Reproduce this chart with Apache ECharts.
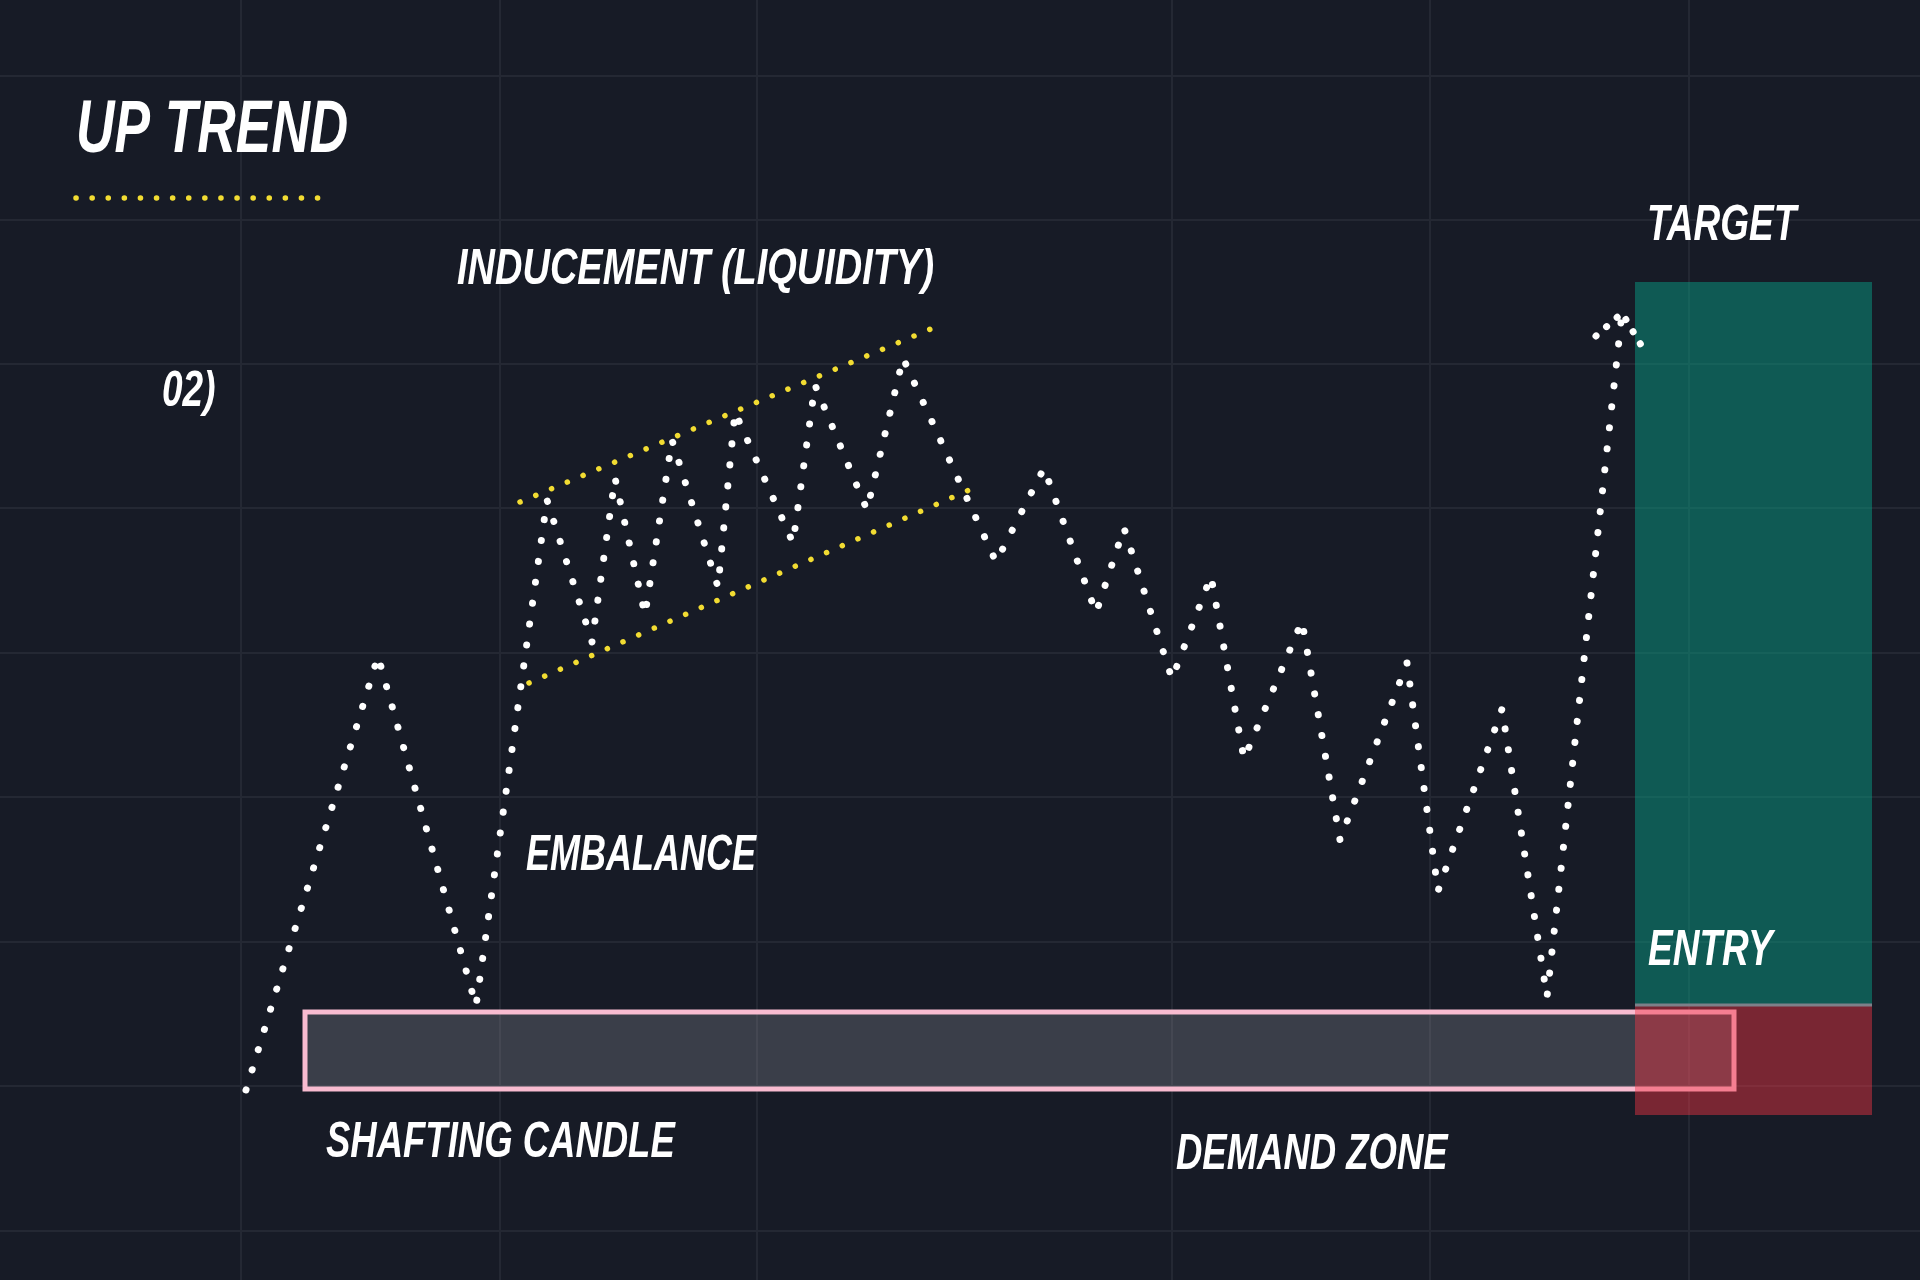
<!DOCTYPE html>
<html>
<head>
<meta charset="utf-8">
<title>UP TREND</title>
<script src="https://cdn.jsdelivr.net/npm/echarts@6/dist/echarts.min.js"></script>
<style>
  html, body { margin: 0; padding: 0; background: #171b26; }
  #chart { width: 1920px; height: 1280px; }
</style>
</head>
<body>
<div id="chart"></div>
<script>
// price path (pixel-like units, y grows downward)
var pathX = [246, 378, 476, 547, 592, 615, 645, 672, 718, 735, 793, 815, 867, 903, 996, 1044, 1096, 1124, 1172, 1211, 1244, 1302, 1340, 1407, 1438, 1502, 1547, 1622];
var pathY = [1090, 656, 1006, 500, 642, 478, 615, 440, 587, 412, 543, 385, 510, 358, 562, 468, 613, 528, 679, 576, 759, 621, 840, 663, 891, 709, 997, 313];
var arrowX = [1596, 1622, 1644];
var arrowY = [336, 313, 350];

// yellow trend lines
var upperX = [520, 933];
var upperY = [502, 328];
var lowerX = [529, 976];
var lowerY = [683, 487];
var legendX = [76, 321];
var legendY = [198, 198];

// zones: [x0, y0, x1, y1]
var demandZone = [305, 1012, 1734, 1089];
var targetZone = [1635, 282, 1872, 1005];
var stopZone = [1635, 1005, 1872, 1115];

// background grid
var gridXs = [241, 500, 757, 1172, 1430, 1689];
var gridYs = [76, 220, 364, 508, 653, 797, 942, 1086, 1231];

function pairs(xs, ys) {
  return xs.map(function (x, i) { return [x, ys[i]]; });
}

var chart = echarts.init(document.getElementById('chart'));

var fontFamily = '"Liberation Sans", Arial, sans-serif';

// condensed bold italic label, text squeezed horizontally
function label(text, x, y, size, sx) {
  return {
    type: 'text',
    x: x,
    y: y,
    scaleX: sx,
    z: 100,
    silent: true,
    style: {
      text: text,
      fill: '#ffffff',
      font: 'italic bold ' + size + 'px ' + fontFamily,
      align: 'left',
      verticalAlign: 'middle',
      shadowColor: 'rgba(0,0,0,0.95)',
      shadowBlur: 5
    }
  };
}

function rectSeries(name, box, fill, z, stroke) {
  return {
    name: name,
    type: 'custom',
    z: z,
    silent: true,
    data: [box],
    renderItem: function (params, api) {
      var p0 = api.coord([api.value(0), api.value(1)]);
      var p1 = api.coord([api.value(2), api.value(3)]);
      var shape = {
        x: Math.min(p0[0], p1[0]),
        y: Math.min(p0[1], p1[1]),
        width: Math.abs(p1[0] - p0[0]),
        height: Math.abs(p1[1] - p0[1])
      };
      return {
        type: 'rect',
        shape: shape,
        style: stroke
          ? { fill: fill, stroke: stroke, lineWidth: 5 }
          : { fill: fill }
      };
    }
  };
}

function dotted(name, data, color, width, gap, z) {
  return {
    name: name,
    type: 'line',
    z: z,
    silent: true,
    showSymbol: false,
    data: data,
    lineStyle: {
      color: color,
      width: width,
      type: [0.1, gap],
      cap: 'round',
      join: 'round'
    }
  };
}

// grid lines: [dir, pos]
var gridData = gridXs.map(function (x) { return [0, x]; })
  .concat(gridYs.map(function (y) { return [1, y]; }));

chart.setOption({
  backgroundColor: '#171b26',
  animation: false,
  grid: { left: 0, right: 0, top: 0, bottom: 0 },
  xAxis: { type: 'value', min: 0, max: 1920, show: false },
  yAxis: { type: 'value', min: 0, max: 1280, inverse: true, show: false },
  series: [
    {
      name: 'grid',
      type: 'custom',
      z: 0,
      silent: true,
      data: gridData,
      renderItem: function (params, api) {
        var vertical = api.value(0) === 0;
        var v = api.value(1);
        var a = vertical ? api.coord([v, 0]) : api.coord([0, v]);
        var b = vertical ? api.coord([v, 1280]) : api.coord([1920, v]);
        return {
          type: 'line',
          shape: { x1: a[0], y1: a[1], x2: b[0], y2: b[1] },
          style: { stroke: '#242833', lineWidth: 2 }
        };
      }
    },
    rectSeries('demand zone', demandZone, 'rgba(150,153,165,0.28)', 2, '#f8bbd0'),
    rectSeries('target', targetZone, 'rgba(8,153,129,0.5)', 3),
    rectSeries('stop', stopZone, 'rgba(242,54,69,0.45)', 3),
    {
      name: 'entry line',
      type: 'line',
      z: 4,
      silent: true,
      showSymbol: false,
      data: [[targetZone[0], targetZone[3]], [targetZone[2], targetZone[3]]],
      lineStyle: { color: '#7d8089', width: 3 }
    },
    dotted('price', pairs(pathX, pathY), '#ffffff', 7, 21, 6),
    dotted('arrow', pairs(arrowX, arrowY), '#ffffff', 7, 14, 6),
    dotted('upper', pairs(upperX, upperY), '#f2dc32', 5.5, 17, 5),
    dotted('lower', pairs(lowerX, lowerY), '#f2dc32', 5.5, 17, 5),
    dotted('legend', pairs(legendX, legendY), '#f2dc32', 5.5, 16, 5)
  ],
  graphic: [
    label('UP TREND', 76, 132, 74, 0.72),
    label('INDUCEMENT (LIQUIDITY)', 457, 270, 50, 0.76),
    label('02)', 162, 392, 50, 0.74),
    label('EMBALANCE', 526, 856, 50, 0.72),
    label('SHAFTING CANDLE', 326, 1143, 50, 0.73),
    label('DEMAND ZONE', 1176, 1155, 50, 0.73),
    label('TARGET', 1647, 226, 50, 0.74),
    label('ENTRY', 1648, 951, 50, 0.74)
  ]
});
</script>
</body>
</html>
